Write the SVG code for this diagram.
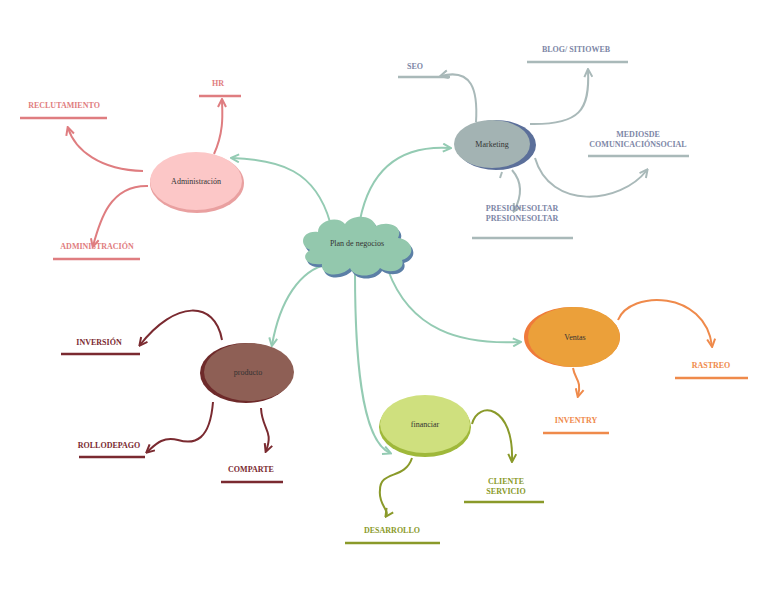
<svg xmlns="http://www.w3.org/2000/svg" width="768" height="594" viewBox="0 0 768 594">
<defs>
<marker id="mg" viewBox="0 0 10 10" refX="8" refY="5" markerWidth="5" markerHeight="5" orient="auto"><path d="M1,1 L9,5 L1,9" fill="none" stroke="#94cbb3" stroke-width="2"/></marker>
<marker id="mr" viewBox="0 0 10 10" refX="8" refY="5" markerWidth="5" markerHeight="5" orient="auto"><path d="M1,1 L9,5 L1,9" fill="none" stroke="#df7d80" stroke-width="2"/></marker>
<marker id="ms" viewBox="0 0 10 10" refX="8" refY="5" markerWidth="5" markerHeight="5" orient="auto"><path d="M1,1 L9,5 L1,9" fill="none" stroke="#a9b9b9" stroke-width="2"/></marker>
<marker id="mo" viewBox="0 0 10 10" refX="8" refY="5" markerWidth="5" markerHeight="5" orient="auto"><path d="M1,1 L9,5 L1,9" fill="none" stroke="#ef8a4b" stroke-width="2"/></marker>
<marker id="mb" viewBox="0 0 10 10" refX="8" refY="5" markerWidth="5" markerHeight="5" orient="auto"><path d="M1,1 L9,5 L1,9" fill="none" stroke="#7a2a30" stroke-width="2"/></marker>
<marker id="mv" viewBox="0 0 10 10" refX="8" refY="5" markerWidth="5" markerHeight="5" orient="auto"><path d="M1,1 L9,5 L1,9" fill="none" stroke="#8a9a2a" stroke-width="2"/></marker>
</defs>
<style>
text{font-family:"Liberation Serif",serif;text-anchor:middle}
.n{font-size:8px;fill:#333}
.l{font-size:8px;font-weight:bold}
.c path{fill:none;stroke-width:2}
.g{stroke:#94cbb3}.r{stroke:#df7d80}.s{stroke:#a9b9b9}.o{stroke:#ef8a4b}.b{stroke:#7a2a30}.v{stroke:#8a9a2a}
.u{stroke-width:2.5}
</style>
<rect width="768" height="594" fill="#fff"/>
<g id="connectors" class="c">
<path class="g" d="M330,222 C315,170 280,160 232,158" marker-end="url(#mg)"/>
<path class="g" d="M360,220 C370,170 400,145 450,148" marker-end="url(#mg)"/>
<path class="g" d="M328,264 C300,270 280,300 272,345" marker-end="url(#mg)"/>
<path class="g" d="M355,272 C355,350 360,440 390,453" marker-end="url(#mg)"/>
<path class="g" d="M388,270 C410,330 460,345 520,342" marker-end="url(#mg)"/>
<path class="r" d="M143,171 C100,170 75,150 68,128" marker-end="url(#mr)"/>
<path class="r" d="M214,154 C225,130 222,110 222,100" marker-end="url(#mr)"/>
<path class="r" d="M148,186 C110,185 100,220 93,246" marker-end="url(#mr)"/>
<path class="s" d="M476,122 C478,90 472,68 441,76" marker-end="url(#ms)"/>
<path class="s" d="M530,124 C580,125 590,110 588,70" marker-end="url(#ms)"/>
<path class="s" d="M535,158 C550,210 620,205 647,170" marker-end="url(#ms)"/>
<path class="s" d="M512,170 C525,185 520,200 514,211" marker-end="url(#ms)"/>
<path class="s" d="M502,172 L500,178"/>
<path class="o" d="M618,320 C630,290 705,290 712,346" marker-end="url(#mo)"/>
<path class="o" d="M573,368 C575,380 582,380 578,396" marker-end="url(#mo)"/>
<path class="b" d="M222,340 C215,300 175,300 140,345" marker-end="url(#mb)"/>
<path class="b" d="M213,402 C210,440 195,445 178,440 C162,436 155,445 147,452" marker-end="url(#mb)"/>
<path class="b" d="M261,408 C262,430 274,430 266,451" marker-end="url(#mb)"/>
<path class="v" d="M472,424 C478,400 514,405 512,461" marker-end="url(#mv)"/>
<path class="v" d="M412,458 C405,480 380,470 380,490 C378,505 390,510 386,516" marker-end="url(#mv)"/>
</g>
<g id="plan">
<path d="M310,250 C298,245 302,230 318,232 C318,220 338,215 345,224 C352,214 372,214 376,226 C388,220 404,226 398,238 C414,240 416,256 402,260 C406,270 390,275 380,268 C374,278 354,278 350,268 C340,278 320,276 322,264 C306,266 300,256 310,250 Z" fill="#5b7fa6" transform="translate(2,3)"/>
<path d="M310,250 C298,245 302,230 318,232 C318,220 338,215 345,224 C352,214 372,214 376,226 C388,220 404,226 398,238 C414,240 416,256 402,260 C406,270 390,275 380,268 C374,278 354,278 350,268 C340,278 320,276 322,264 C306,266 300,256 310,250 Z" fill="#93c8ad"/>
<text class="n" x="357" y="246">Plan de negocios</text>
</g>
<g id="admin"><ellipse cx="197" cy="183" rx="47" ry="30" fill="#e9a0a0"/><ellipse cx="196" cy="181" rx="46" ry="29" fill="#fcc7c7"/><text class="n" x="196" y="184">Administración</text></g>
<g id="marketing"><ellipse cx="496" cy="145" rx="40" ry="25" fill="#5b6f9a"/><ellipse cx="492" cy="144" rx="38" ry="24" fill="#a3b3b3"/><text class="n" x="492" y="147">Marketing</text></g>
<g id="ventas"><ellipse cx="572" cy="337" rx="48" ry="30" fill="#ef7a3a"/><ellipse cx="574" cy="337" rx="46" ry="30" fill="#eba03a"/><text class="n" x="575" y="340">Ventas</text></g>
<g id="producto"><ellipse cx="246" cy="373" rx="46" ry="30" fill="#6e2a2a"/><ellipse cx="249" cy="372" rx="45" ry="29" fill="#8e5f55"/><text class="n" x="248" y="375">producto</text></g>
<g id="financiar"><ellipse cx="425" cy="427" rx="46" ry="30" fill="#9fb83a"/><ellipse cx="425" cy="424" rx="45" ry="29" fill="#cfe07e"/><text class="n" x="425" y="427">financiar</text></g>
<g id="l-recl"><text class="l" x="64" y="108" fill="#df7d80">RECLUTAMIENTO</text><line class="r u" x1="20" y1="118" x2="107" y2="118"/></g>
<g id="l-hr"><text class="l" x="218" y="86" fill="#df7d80">HR</text><line class="r u" x1="199" y1="96" x2="241" y2="96"/></g>
<g id="l-adm"><text class="l" x="97" y="249" fill="#df7d80">ADMINISTRACIÓN</text><line class="r u" x1="53" y1="259" x2="140" y2="259"/></g>
<g id="l-seo"><text class="l" x="415" y="69" fill="#7d86a6">SEO</text><line class="s u" x1="398" y1="77" x2="450" y2="77"/></g>
<g id="l-blog"><text class="l" x="576" y="52" fill="#7d86a6">BLOG/ SITIOWEB</text><line class="s u" x1="527" y1="62" x2="628" y2="62"/></g>
<g id="l-medios"><text class="l" x="638" y="137" fill="#7d86a6">MEDIOSDE</text><text class="l" x="638" y="147" fill="#7d86a6">COMUNICACIÓNSOCIAL</text><line class="s u" x1="588" y1="156" x2="689" y2="156"/></g>
<g id="l-pres"><text class="l" x="522" y="211" fill="#7d86a6">PRESIONESOLTAR</text><text class="l" x="522" y="221" fill="#7d86a6">PRESIONESOLTAR</text><line class="s u" x1="472" y1="238" x2="573" y2="238"/></g>
<g id="l-rastreo"><text class="l" x="711" y="368" fill="#ef8a4b">RASTREO</text><line class="o u" x1="675" y1="378" x2="748" y2="378"/></g>
<g id="l-inv"><text class="l" x="576" y="423" fill="#ef8a4b">INVENTRY</text><line class="o u" x1="543" y1="433" x2="609" y2="433"/></g>
<g id="l-inversion"><text class="l" x="99" y="345" fill="#7a2a30">INVERSIÓN</text><line class="b u" x1="61" y1="354" x2="140" y2="354"/></g>
<g id="l-rollo"><text class="l" x="109" y="448" fill="#7a2a30">ROLLODEPAGO</text><line class="b u" x1="79" y1="457" x2="145" y2="457"/></g>
<g id="l-comparte"><text class="l" x="251" y="472" fill="#7a2a30">COMPARTE</text><line class="b u" x1="221" y1="482" x2="283" y2="482"/></g>
<g id="l-desarrollo"><text class="l" x="392" y="533" fill="#8a9a2a">DESARROLLO</text><line class="v u" x1="345" y1="543" x2="440" y2="543"/></g>
<g id="l-cliente"><text class="l" x="506" y="484" fill="#8a9a2a">CLIENTE</text><text class="l" x="506" y="494" fill="#8a9a2a">SERVICIO</text><line class="v u" x1="464" y1="502" x2="544" y2="502"/></g>
</svg>
